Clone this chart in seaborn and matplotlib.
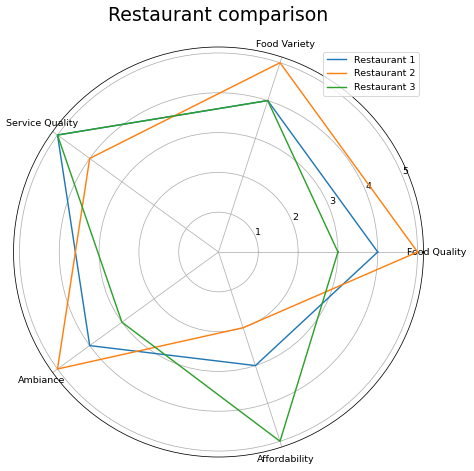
import numpy as np
import matplotlib
matplotlib.use("Agg")
import matplotlib.pyplot as plt
import seaborn as sns

# categories and scores (1-5) per restaurant
categories = ['Food Quality', 'Food Variety', 'Service Quality', 'Ambiance', 'Affordability']
restaurant_1 = [4, 4, 5, 4, 3]
restaurant_2 = [5, 5, 4, 5, 2]
restaurant_3 = [3, 4, 5, 3, 5]
names = ['Restaurant 1', 'Restaurant 2', 'Restaurant 3']

# angles for each axis, closing the loop
angles = np.linspace(0, 2 * np.pi, len(categories), endpoint=False).tolist()
angles += angles[:1]

fig = plt.figure(figsize=(474 / 68, 471 / 68.0), dpi=68)
ax = fig.add_axes([0.0285, 0.0297, 0.865, 0.8705], polar=True)

colors = sns.color_palette('tab10', 3)
for name, vals, c in zip(names, [restaurant_1, restaurant_2, restaurant_3], colors):
    vals = vals + vals[:1]
    sns.lineplot(x=angles, y=vals, ax=ax, label=name, color=c, sort=False, estimator=None)

ax.set_xticks(angles[:-1])
ax.set_xticklabels(categories)
ax.set_ylim(0, 5.15)
ax.set_xlabel('')
ax.set_ylabel('')
ax.legend(loc='upper right')
ax.set_title('Restaurant comparison', size=20, y=1.05)

fig.savefig('out.png', dpi=68)
